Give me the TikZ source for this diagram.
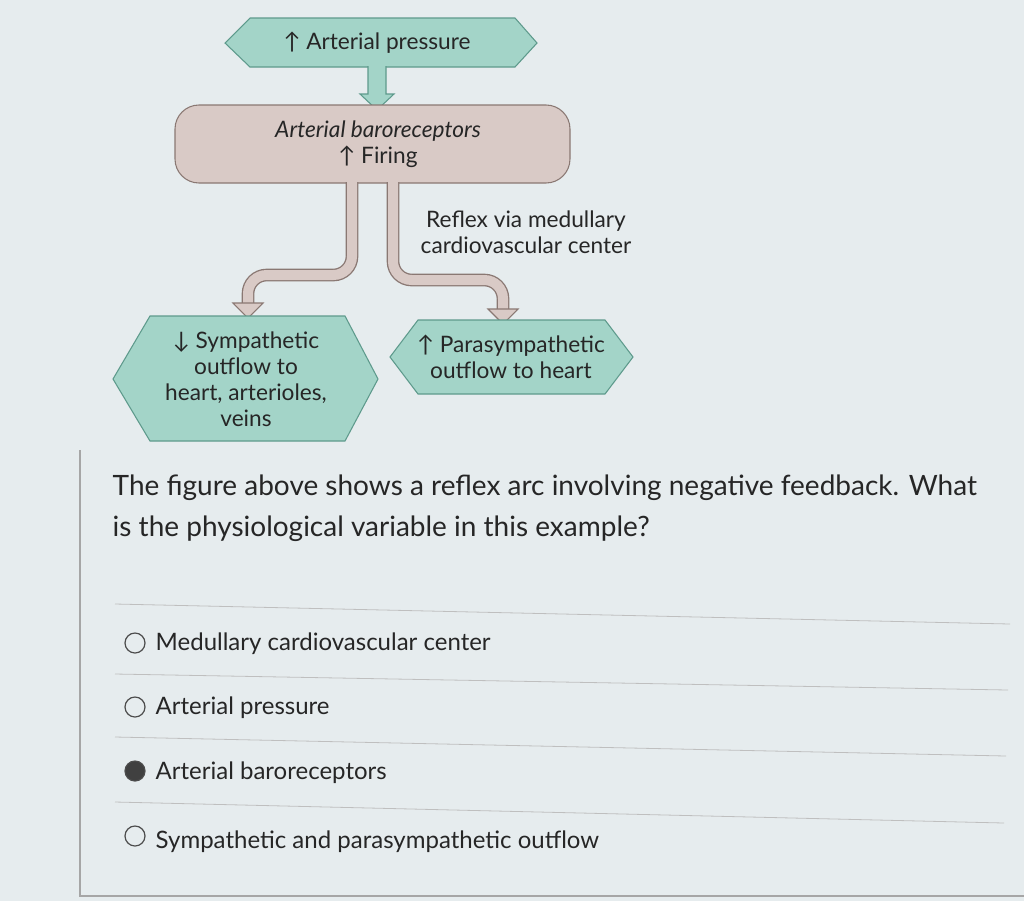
\documentclass[tikz,border=0pt]{standalone}
\usepackage{fontspec}
\setmainfont{Lato}
\begin{document}
\begin{tikzpicture}[x=0.75pt,y=-0.75pt,
 teal/.style={fill=tealf,draw=teald,line width=0.8pt},
 pink/.style={fill=pinkf,draw=pinkd,line width=0.8pt},
 lbl/.style={font=\fontsize{17}{19.5}\selectfont,align=center,text=black!85},
 sep/.style={draw=black!25,line width=0.6pt},
 opt/.style={circle,draw=black!70,line width=0.9pt,minimum size=15pt,inner sep=0pt},
 otxt/.style={anchor=west,font=\fontsize{18}{21}\selectfont,text=black!85}]
\definecolor{tealf}{HTML}{A3D4C8}\definecolor{teald}{HTML}{5E9A8C}
\definecolor{pinkf}{HTML}{D9CAC6}\definecolor{pinkd}{HTML}{8A7873}
\fill[color={rgb,255:red,230;green,236;blue,238}] (0,0) rectangle (1024,901);
\useasboundingbox (0,0) rectangle (1024,901);
\draw[teal] (225,43)--(250,18)--(515,18)--(537,43)--(515,67)--(250,67)--cycle;
\node[lbl] (ap) at (377,43) {↑ Arterial pressure};
\draw[teal] (368,66)--(368,94)--(360,94)--(377,110)--(394,94)--(386,94)--(386,66);
\draw[pink,rounded corners=18pt] (175,105) rectangle (570,183);
\node[lbl] (br) at (378,144) {\textit{Arterial baroreceptors}\\↑ Firing};
\draw[pinkd,line width=9.5pt,rounded corners=14pt] (352,182)--(352,275)--(248,275)--(248,304);
\draw[pinkf,line width=7.5pt,rounded corners=14pt] (352,181)--(352,275)--(248,275)--(248,305);
\draw[pink] (233,303)--(263,303)--(248,318)--cycle;
\draw[pinkd,line width=9.5pt,rounded corners=14pt] (393,182)--(393,280)--(503,280)--(503,310);
\draw[pinkf,line width=7.5pt,rounded corners=14pt] (393,181)--(393,280)--(503,280)--(503,311);
\draw[pink] (488,309)--(518,309)--(503,324)--cycle;
\node[lbl,anchor=west] (rf) at (416,232) {Reflex via medullary\\cardiovascular center};
\draw[teal] (113,379)--(150,316)--(345,316)--(378,379)--(345,441)--(150,441)--cycle;
\node[lbl] (sy) at (246,379) {↓ Sympathetic\\outflow to\\heart, arterioles,\\veins};
\draw[teal] (390,357)--(418,320)--(605,320)--(633,357)--(605,394)--(418,394)--cycle;
\node[lbl] (ps) at (511,357) {↑ Parasympathetic\\outflow to heart};
\node[anchor=west,font=\fontsize{21}{31}\selectfont,align=left,text=black!85] (q) at (108,508) {The figure above shows a reflex arc involving negative feedback. What\\is the physiological variable in this example?};
\draw[sep] (115,604)--(1010,624);
\draw[sep] (115,674)--(1008,690);
\draw[sep] (115,737)--(1006,756);
\draw[sep] (115,802)--(1004,823);
\node[opt] (o1) at (135,643) {}; \node[otxt] (t1) at (151,644) {Medullary cardiovascular center};
\node[opt] (o2) at (135,707) {}; \node[otxt] (t2) at (151,708) {Arterial pressure};
\node[opt,fill=black!75] (o3) at (135,771) {}; \node[otxt] (t3) at (151,773) {Arterial baroreceptors};
\node[opt] (o4) at (135,836) {}; \node[otxt] (t4) at (151,842) {Sympathetic and parasympathetic outflow};
\draw[black!35,line width=0.8pt] (80,450)--(80,896)--(1024,896);
\end{tikzpicture}
\end{document}
